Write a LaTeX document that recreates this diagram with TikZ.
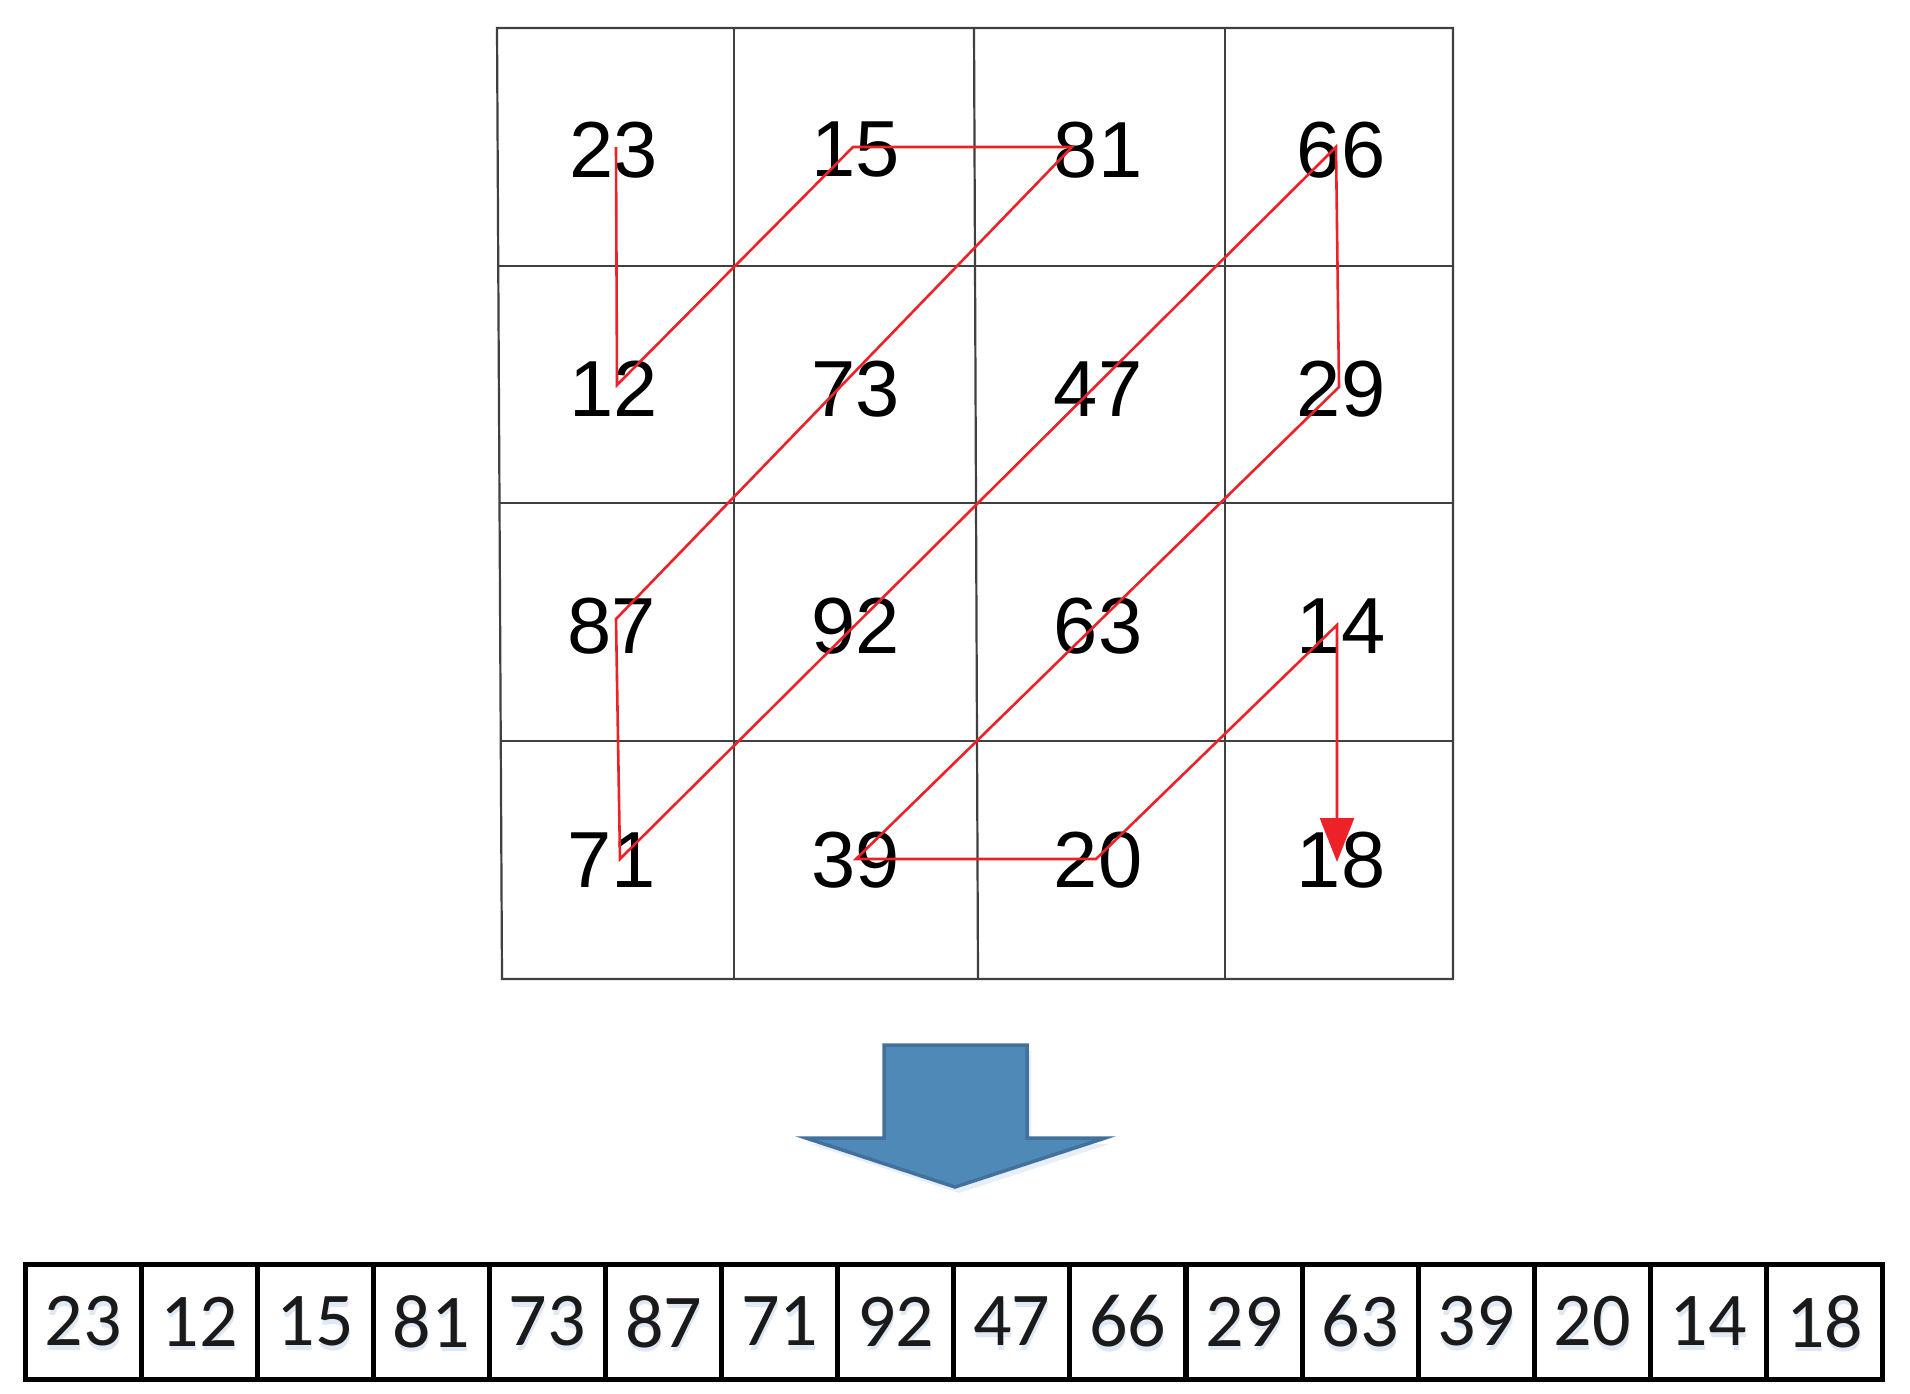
\documentclass[tikz,border=0pt]{standalone}
\usepackage{fontspec}
\newfontfamily\arialf{Liberation Sans}
\newfontfamily\calibf{Carlito}
\usetikzlibrary{arrows.meta}
\definecolor{gridc}{RGB}{64,64,64}
\definecolor{pathred}{RGB}{237,34,40}
\definecolor{arrowfill}{RGB}{79,137,184}
\definecolor{arrowedge}{RGB}{65,113,156}
\definecolor{glow}{RGB}{214,228,242}
\definecolor{txtglow}{RGB}{222,233,245}
\definecolor{atext}{RGB}{26,26,26}
\tikzset{
  gridline/.style={draw=gridc, line width=2.2pt},
  gnum/.style={inner sep=0pt, font=\arialf\fontsize{79.5}{80}\selectfont},
  acell/.style={draw=black, line width=5pt, minimum width=116pt, minimum height=115pt, inner sep=0pt, text=atext, font=\calibf\fontsize{76}{77}\selectfont},
  aglow/.style={inner sep=0pt, text=txtglow, font=\calibf\fontsize{76}{77}\selectfont},
  zz/.style={draw=pathred, line width=2.6pt, line join=miter},
  bigarrow/.style={fill=arrowfill, draw=arrowedge, line width=3.5pt, line join=miter}
}
\begin{document}
\begin{tikzpicture}[x=1pt,y=-1pt]
\useasboundingbox (0,0) rectangle (1910,1393);
\fill[white] (0,0) rectangle (1910,1393);
% grid
\draw[gridline] (497,28) -- (1453,28) -- (1453,979) -- (502,979) -- cycle;
\draw[gridline] (734,28) -- (734,979);
\draw[gridline] (974,28) -- (978,979);
\draw[gridline] (1225,28) -- (1225,979);
\draw[gridline] (498,266) -- (1453,266);
\draw[gridline] (499,503) -- (1453,503);
\draw[gridline] (500,741) -- (1453,741);
% numbers
\node[gnum] (n11) at (614,150) {23};
\node[gnum] (n12) at (856,150) {15};
\node[gnum] (n13) at (1098,150) {81};
\node[gnum] (n14) at (1341,150) {66};
\node[gnum] (n21) at (614,389) {12};
\node[gnum] (n22) at (856,389) {73};
\node[gnum] (n23) at (1098,389) {47};
\node[gnum] (n24) at (1341,389) {29};
\node[gnum] (n31) at (612,626) {87};
\node[gnum] (n32) at (856,626) {92};
\node[gnum] (n33) at (1098,626) {63};
\node[gnum] (n34) at (1341,626) {14};
\node[gnum] (n41) at (612,860) {71};
\node[gnum] (n42) at (856,860) {39};
\node[gnum] (n43) at (1098,860) {20};
\node[gnum] (n44) at (1341,860) {18};
% zigzag path points
\coordinate (p1) at (616,147);
\coordinate (p2) at (617,385);
\coordinate (p3) at (853,147);
\coordinate (p4) at (1072,147);
\coordinate (p5) at (616,619);
\coordinate (p6) at (620,859);
\coordinate (p7) at (1336,147);
\coordinate (p8) at (1339,387);
\coordinate (p9) at (856,859);
\coordinate (p10) at (1096,859);
\coordinate (p11) at (1337,625);
\coordinate (p12) at (1337,862);
\draw[zz, -{Triangle[length=44pt,width=34pt]}]
  (p1) -- (p2) -- (p3) -- (p4) -- (p5) -- (p6) -- (p7) -- (p8) -- (p9) -- (p10) -- (p11) -- (p12);
% big arrow
\coordinate (a1) at (884,1045);
\coordinate (a2) at (1027,1045);
\coordinate (a3) at (1027,1138);
\coordinate (a4) at (1105,1138);
\coordinate (a5) at (955,1187);
\coordinate (a6) at (806,1138);
\coordinate (a7) at (884,1138);
\fill[glow, opacity=0.6] ([shift={(4,6)}]a1) -- ([shift={(4,6)}]a2) -- ([shift={(4,6)}]a3) -- ([shift={(4,6)}]a4) -- ([shift={(4,6)}]a5) -- ([shift={(4,6)}]a6) -- ([shift={(4,6)}]a7) -- cycle;
\draw[bigarrow] (a1) -- (a2) -- (a3) -- (a4) -- (a5) -- (a6) -- (a7) -- cycle;
% array
\foreach \v [count=\i] in {23,12,15,81,73,87,71,92,47,66,29,63,39,20,14,18} {
  \node[aglow] (g\i) at ({25+116.1*(\i-0.5)+1},1326) {\v};
  \node[acell] (c\i) at ({25+116.1*(\i-0.5)},1321.5) {\v};
}
\end{tikzpicture}
\end{document}
